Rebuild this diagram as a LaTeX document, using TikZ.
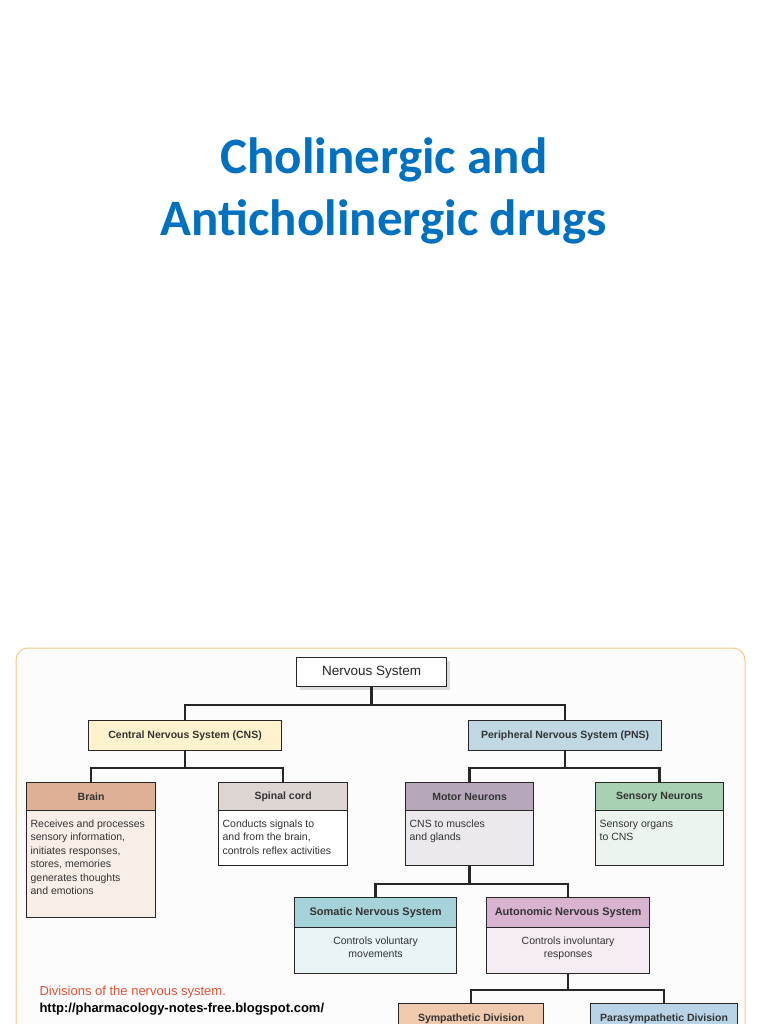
\documentclass[tikz,border=0pt]{standalone}
\usepackage{fontspec}
\setmainfont{Liberation Sans}
\newfontfamily\titlefont{Carlito}
\usetikzlibrary{shadows}
\definecolor{tblue}{RGB}{0,112,192}
\definecolor{frameor}{RGB}{250,200,130}
\definecolor{brainh}{RGB}{222,176,150}\definecolor{brainb}{RGB}{248,238,232}
\definecolor{spinh}{RGB}{220,213,210}\definecolor{spinb}{RGB}{255,255,255}
\definecolor{moth}{RGB}{182,168,186}\definecolor{motb}{RGB}{236,233,238}
\definecolor{senh}{RGB}{168,208,178}\definecolor{senb}{RGB}{236,245,237}
\definecolor{cnsc}{RGB}{255,242,204}\definecolor{pnsc}{RGB}{192,216,228}
\definecolor{somh}{RGB}{166,210,218}\definecolor{somb}{RGB}{232,244,246}
\definecolor{auth}{RGB}{216,180,208}\definecolor{autb}{RGB}{246,236,244}
\definecolor{symc}{RGB}{240,202,174}\definecolor{parc}{RGB}{184,212,230}
\definecolor{capred}{RGB}{230,80,50}
\newcommand{\bodytext}[4][l]{\parbox[t][#3][t]{#2}{\ifx l#1\raggedright\else\centering\fi\strut #4}}
\tikzset{
 box/.style={draw=black!85,line width=1.2pt,anchor=north west,inner sep=0pt,align=center},
 hdr/.style={box,font=\fontsize{10.5}{12}\selectfont\bfseries\color{black!80}},
 bdy/.style={box,inner xsep=4pt,inner ysep=7pt,font=\fontsize{10.5}{13.5}\selectfont\color{black!80}},
 conn/.style={line width=2.6pt,black!85},
}
\begin{document}
\begin{tikzpicture}[x=1pt,y=-1pt]
\useasboundingbox (0,0) rectangle (768,1024);
\fill[white] (0,0) rectangle (768,1024);
\node[font=\titlefont\fontsize{51}{62}\selectfont\bfseries,text=tblue,align=center] (title) at (384,191) {Cholinergic and\\Anticholinergic drugs};
\draw[frameor,line width=1pt,rounded corners=12pt,fill=black!1] (16,1030) -- (16,648) -- (745,648) -- (745,1030);
% top
\node[box,minimum width=150,minimum height=29,drop shadow={opacity=0.25,shadow xshift=3pt,shadow yshift=-3pt},fill=white,font=\fontsize{13.5}{15}\selectfont\color{black!85}] (ns) at (296,657) {Nervous System};
\node[hdr,fill=cnsc,minimum width=193,minimum height=30] (cns) at (88,720) {Central Nervous System (CNS)};
\node[hdr,fill=pnsc,minimum width=193,minimum height=30] (pns) at (468,720) {Peripheral Nervous System (PNS)};
% level 3
\node[hdr,fill=brainh,minimum width=129,minimum height=28] (brh) at (26,782) {Brain};
\node[bdy,fill=brainb] (brb) at (26,810) {\bodytext{121pt}{93pt}{Receives and processes\\sensory information,\\initiates responses,\\stores, memories\\generates thoughts\\and emotions}};
\node[hdr,fill=spinh,minimum width=129,minimum height=28] (sph) at (218,782) {Spinal cord};
\node[bdy,fill=spinb] (spb) at (218,810) {\bodytext{121pt}{41pt}{Conducts signals to\\and from the brain,\\controls reflex activities}};
\node[hdr,fill=moth,minimum width=128,minimum height=28] (moh) at (405,782) {Motor Neurons};
\node[bdy,fill=motb] (mob) at (405,810) {\bodytext{120pt}{41pt}{CNS to muscles\\and glands}};
\node[hdr,fill=senh,minimum width=128,minimum height=28] (seh) at (595,782) {Sensory Neurons};
\node[bdy,fill=senb] (seb) at (595,810) {\bodytext{120pt}{41pt}{Sensory organs\\to CNS}};
% level 4
\node[hdr,fill=somh,minimum width=162,minimum height=30,font=\fontsize{11}{12}\selectfont\bfseries\color{black!80}] (soh) at (294,897) {Somatic Nervous System};
\node[bdy,fill=somb,inner ysep=7pt] (sob) at (294,927) {\bodytext[c]{154pt}{32pt}{Controls voluntary\\movements}};
\node[hdr,fill=auth,minimum width=163,minimum height=30,font=\fontsize{11}{12}\selectfont\bfseries\color{black!80}] (auh) at (486,897) {Autonomic Nervous System};
\node[bdy,fill=autb,inner ysep=7pt] (aub) at (486,927) {\bodytext[c]{155pt}{32pt}{Controls involuntary\\responses}};
% level 5
\node[hdr,fill=symc,minimum width=145,minimum height=30] (sy) at (398,1003) {Sympathetic Division};
\node[hdr,fill=parc,minimum width=147,minimum height=30] (pa) at (590,1003) {Parasympathetic Division};
% connectors
\coordinate (j1) at (370,705);
\draw[conn] (ns.south) -- (ns.south |- j1);
\draw[conn] (cns.north) |- (j1) -| (pns.north);
\draw[conn] (cns.south) -- (cns.south |- 0,768);
\draw[conn] (brh.north) |- (cns.south |- 0,768) -| (sph.north);
\draw[conn] (pns.south) -- (pns.south |- 0,768);
\draw[conn] (moh.north) |- (pns.south |- 0,768) -| (seh.north);
\draw[conn] (mob.south) -- (mob.south |- 0,884);
\draw[conn] (soh.north) |- (mob.south |- 0,884) -| (auh.north);
\draw[conn] (aub.south) -- (aub.south |- 0,990);
\draw[conn] (sy.north) |- (aub.south |- 0,990) -| (pa.north);
% caption
\node[anchor=west,text=capred,font=\fontsize{13}{14}\selectfont] (cap) at (36,992) {Divisions of the nervous system.};
\node[anchor=west,font=\fontsize{13}{14}\selectfont\bfseries] (url) at (36,1009) {http://pharmacology-notes-free.blogspot.com/};
\end{tikzpicture}
\end{document}
